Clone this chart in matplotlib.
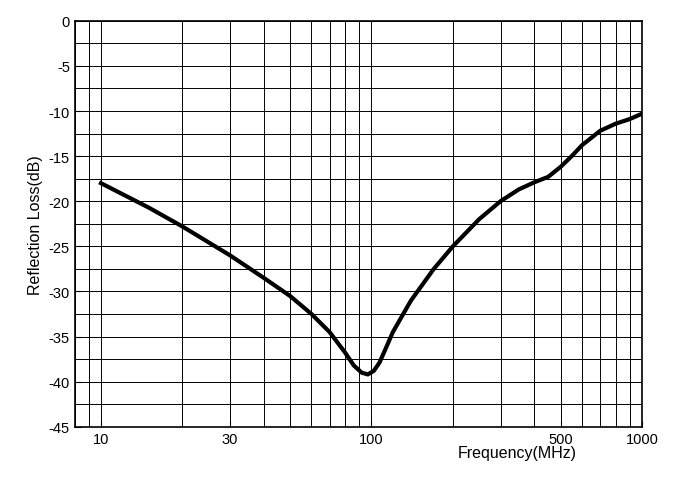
import matplotlib
matplotlib.use("Agg")
import matplotlib.pyplot as plt
from matplotlib.ticker import FixedLocator, NullFormatter

plt.rcParams["font.family"] = ["Liberation Sans", "DejaVu Sans"]
plt.rcParams["axes.unicode_minus"] = False

freq_mhz = [10, 15, 20, 30, 40, 50, 60, 70, 80, 86, 92, 97, 102, 107, 113, 120, 140,
            170, 200, 250, 300, 350, 400, 450, 500, 550, 600, 700, 800, 900, 1000]
loss_db = [-18.0, -20.7, -22.8, -26.0, -28.5, -30.5, -32.5, -34.5, -36.8, -38.2,
           -39.0, -39.2, -38.8, -37.9, -36.3, -34.5, -31.0, -27.5, -25.0, -22.0, -20.0,
           -18.7, -17.9, -17.3, -16.2, -15.0, -13.8, -12.2, -11.4, -10.9, -10.3]

x_ticks = [10, 30, 100, 500, 1000]
x_grid = [8, 9, 10, 20, 30, 40, 50, 60, 70, 80, 90, 100, 200, 300, 400, 500,
          600, 700, 800, 900, 1000]
y_ticks = [0, -5, -10, -15, -20, -25, -30, -35, -40, -45]
y_grid = [-2.5 * i for i in range(19)]

fig = plt.figure(figsize=(6.8, 4.85), dpi=100)
ax = fig.add_axes([0.110, 0.118, 0.834, 0.837])
ax.set_xscale("log")
ax.set_xlim(8, 1000)
ax.set_ylim(-45, 0)

for x in x_grid:
    ax.axvline(x, color="black", linewidth=0.7, zorder=1)
for y in y_grid:
    ax.axhline(y, color="black", linewidth=0.7, zorder=1)

ax.plot(freq_mhz, loss_db, color="black", linewidth=3, zorder=3)

ax.xaxis.set_major_locator(FixedLocator(x_ticks))
ax.set_xticklabels([str(t) for t in x_ticks])
ax.xaxis.set_minor_locator(FixedLocator([]))
ax.xaxis.set_minor_formatter(NullFormatter())
ax.set_yticks(y_ticks)
ax.tick_params(direction="in", length=4, labelsize=10.5)
for s in ax.spines.values():
    s.set_linewidth(1.2)

ax.set_ylabel("Reflection Loss(dB)", fontsize=11.5)
ax.set_xlabel("Frequency(MHz)", fontsize=11.5)
ax.xaxis.set_label_coords(0.78, -0.045)

fig.savefig("out.png", dpi=100)
